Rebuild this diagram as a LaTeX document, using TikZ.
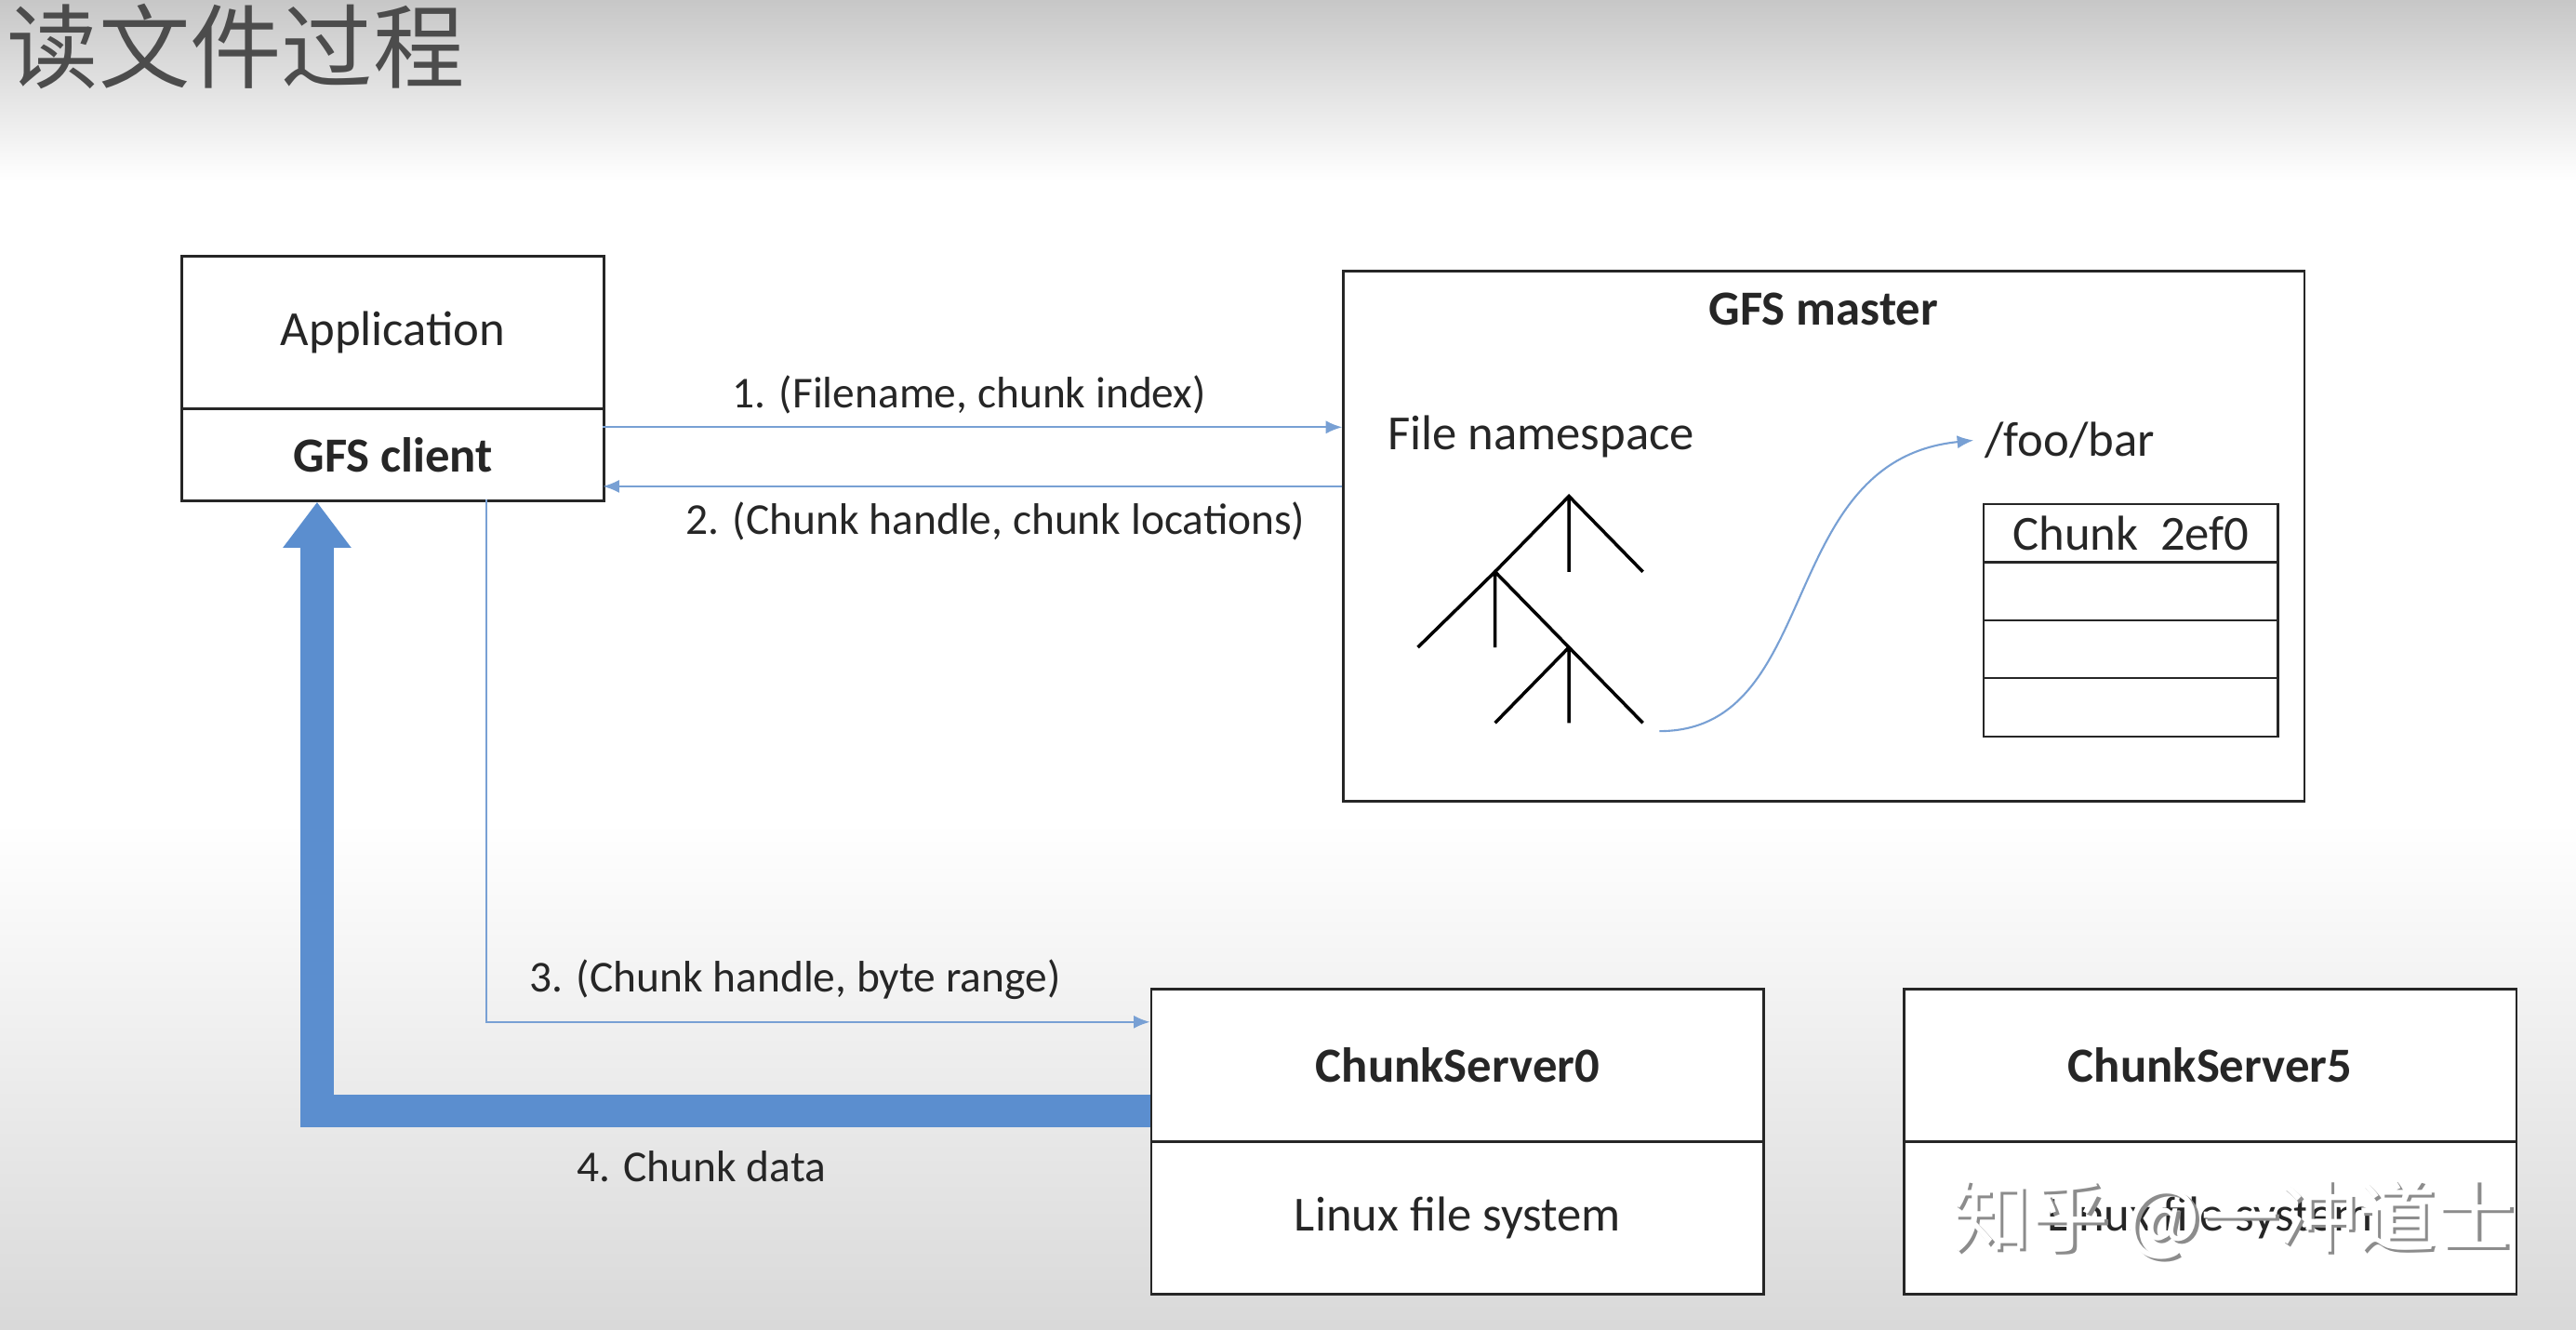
\documentclass[tikz,border=0pt]{standalone}
\usepackage{fontspec}
\setmainfont{Carlito}
\newfontfamily\cjk{Noto Sans CJK SC}
\usetikzlibrary{arrows.meta}
\definecolor{thinblue}{RGB}{120,160,212}
\definecolor{thickblue}{RGB}{91,142,207}
\begin{document}
\begin{tikzpicture}[x=0.017666cm,y=-0.017666cm,
  box/.style={draw=black!85,line width=0.8pt,fill=white,inner sep=0,anchor=north west},
  lbl/.style={font=\fontsize{15}{17}\selectfont,text=black!85},
  bl/.style={font=\bfseries\fontsize{15}{17}\selectfont,text=black!85},
  sm/.style={font=\fontsize{13.5}{15}\selectfont,text=black!85},
  arr/.style={draw=thinblue,line width=0.6pt,-{Latex[length=5pt,width=4pt]}},
  tr/.style={line width=1pt,black}]
\shade[top color=black!22,bottom color=white] (0,0) rectangle (1568,110);
\fill[white] (0,110) rectangle (1568,500);
\shade[top color=white,bottom color=black!15] (0,500) rectangle (1568,809);
\useasboundingbox (0,0) rectangle (1568,809);
\node[anchor=north west,inner sep=0,text=black!70,font=\cjk\fontsize{28}{30}\selectfont] (title) at (4,2) {读文件过程};
% client
\node[box,minimum width=4.540cm,minimum height=1.643cm,lbl] (app) at (110,155) {Application};
\node[box,minimum width=4.540cm,minimum height=0.989cm,bl] (client) at (110,248) {GFS client};
% master
\node[box,minimum width=10.335cm,minimum height=5.706cm] (master) at (817,164) {};
\node[bl] (mt) at (1110,188) {GFS master};
\node[lbl] (ns) at (938,266) {File namespace};
\node[lbl] (foo) at (1260,268) {/foo/bar};
\foreach \i/\y in {0/306,1/342,2/377,3/412}
  \node[box,minimum width=3.162cm,minimum height=0.627cm,line width=0.6pt] (row\i) at (1207,\y) {};
\node[lbl] (c0) at (row0) {Chunk\ \ 2ef0};
\draw[tr] (910,348)--(955,302)--(1000,348) (955,302)--(955,348);
\draw[tr] (863,394)--(910,348)--(1000,440) (910,348)--(910,394);
\draw[tr] (910,440)--(955,394) (955,394)--(955,440);
\coordinate (cs) at (1010,445);
\draw[thinblue,line width=0.6pt,-{Latex[length=5pt,width=4pt]}] (cs) .. controls (1110,445) and (1080,280) .. (foo.west);
% arrows 1,2
\coordinate (a1s) at (367,260); \coordinate (a1e) at (817,260);
\draw[arr] (a1s)--(a1e);
\node[sm] (l1) at (590,240) {1. (Filename, chunk index)};
\coordinate (a2s) at (817,296); \coordinate (a2e) at (367,296);
\draw[arr] (a2s)--(a2e);
\node[sm] (l2) at (606,317) {2. (Chunk handle, chunk locations)};
% chunkservers
\node[box,minimum width=6.589cm,minimum height=1.643cm,bl] (cs0) at (700,601) {ChunkServer0};
\node[box,minimum width=6.589cm,minimum height=1.643cm,lbl] (fs0) at (700,694) {Linux file system};
\node[box,minimum width=6.589cm,minimum height=1.643cm,bl] (cs5) at (1158,601) {ChunkServer5};
\node[box,minimum width=6.589cm,minimum height=1.643cm,lbl] (fs5) at (1158,694) {Linux file system};
\node[text=black!45,font=\cjk\fontsize{24}{26}\selectfont,anchor=west,inner sep=0] (wms) at (1190,744) {知乎 @一冲道士};
\node[text=white,font=\cjk\fontsize{24}{26}\selectfont,anchor=west,inner sep=0] (wm) at (1188,742) {知乎 @一冲道士};
% arrow 3
\draw[arr] (296,304)--(296,622)--(cs0.west|-0,622);
\node[sm] (l3) at (484,596) {3. (Chunk handle, byte range)};
% thick arrow 4
\draw[thickblue,line width=10pt,-{Triangle[length=14pt,width=20pt]}] (cs0.west|-0,676)--(193,676)--(client.south-|193,0);
\node[sm] (l4) at (427,710) {4. Chunk data};
\end{tikzpicture}
\end{document}
